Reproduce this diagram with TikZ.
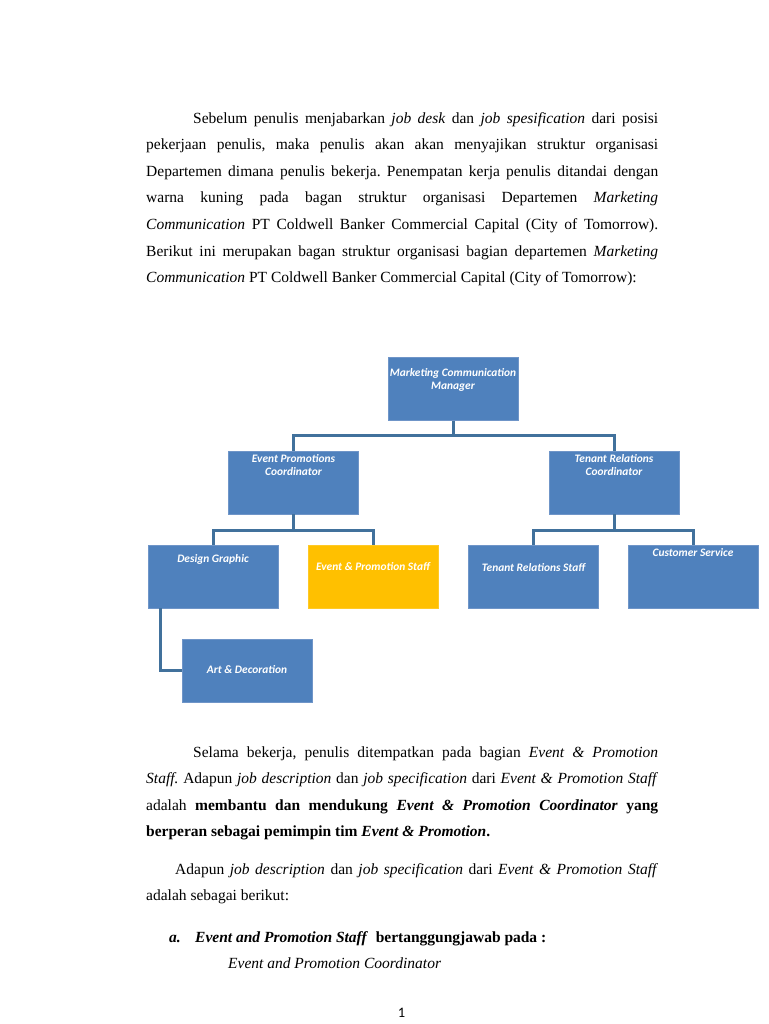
\documentclass[tikz,border=0pt]{standalone}
\usepackage{fontspec}
\setmainfont{Liberation Serif}
\newfontfamily\calfont{Carlito}
\definecolor{boxblue}{HTML}{4F81BD}
\definecolor{edgeblue}{HTML}{6F95C8}
\definecolor{lineblue}{HTML}{41719C}
\definecolor{boxyellow}{HTML}{FFC000}
\newcommand\justline[2]{\makebox[#1pt][s]{#2}}
\frenchspacing
\begin{document}
\begin{tikzpicture}[x=1pt,y=-1pt,
  orgbox/.style={fill=boxblue, draw=edgeblue, line width=0.6pt, minimum width=130pt, minimum height=63pt, inner sep=0pt},
  staffbox/.style={orgbox, fill=boxyellow, draw=boxyellow!85!white},
  boxtext/.style={anchor=base, inner sep=0pt, text=white, align=center, font=\calfont\bfseries\itshape\fontsize{11.4}{12.8}\selectfont},
  conn/.style={draw=lineblue, line width=3pt},
  body/.style={anchor=base west, inner sep=0pt, font=\fontsize{15.5}{26.5}\selectfont},
  pagenum/.style={anchor=base, inner sep=0pt, font=\calfont\fontsize{14.5}{16}\selectfont}]
\useasboundingbox[fill=white] (0,0) rectangle (768,1024);

% ---- first paragraph ----
\node[body] (p1a) at (193,123.5) {\justline{465}{Sebelum penulis menjabarkan \textit{job desk} dan \textit{job spesification} dari posisi}};
\node[body] (p1b) at (146,150) {\justline{512}{pekerjaan penulis, maka penulis akan akan menyajikan struktur organisasi}};
\node[body] (p1c) at (146,176.5) {\justline{512}{Departemen dimana penulis bekerja. Penempatan kerja penulis ditandai dengan}};
\node[body] (p1d) at (146,203) {\justline{512}{warna kuning pada bagan struktur organisasi Departemen \textit{Marketing}}};
\node[body] (p1e) at (146,229.5) {\justline{512}{\textit{Communication} PT Coldwell Banker Commercial Capital (City of Tomorrow).}};
\node[body] (p1f) at (146,256) {\justline{512}{Berikut ini merupakan bagan struktur organisasi bagian departemen \textit{Marketing}}};
\node[body] (p1g) at (146,282.5) {\textit{Communication} PT Coldwell Banker Commercial Capital (City of Tomorrow):};

% ---- org chart ----
\node[orgbox] (mcm) at (453,389) {};
\node[orgbox] (epc) at (293.5,482.5) {};
\node[orgbox] (trc) at (614,482.5) {};
\node[orgbox] (dg) at (213,576.5) {};
\node[staffbox] (eps) at (373,576.5) {};
\node[orgbox] (trs) at (533.5,576.5) {};
\node[orgbox] (cs) at (693,576.5) {};
\node[orgbox] (art) at (247,670.5) {};

\node[boxtext] (mcmt) at (453,389) {Marketing Communication\\Manager};
\node[boxtext] (epct) at (293.5,475) {Event Promotions\\Coordinator};
\node[boxtext] (trct) at (614,475) {Tenant Relations\\Coordinator};
\node[boxtext] (dgt) at (213,562) {Design Graphic};
\node[boxtext] (epst) at (373,570) {Event \& Promotion Staff};
\node[boxtext] (trst) at (533.5,571) {Tenant Relations Staff};
\node[boxtext] (cst) at (693,556) {Customer Service};
\node[boxtext] (artt) at (247,673) {Art \& Decoration};

\draw[conn] (mcm.south) -- ++(0,15) -| (epc.north);
\draw[conn] (mcm.south) ++(0,15) -| (trc.north);
\draw[conn] (epc.south) -- ++(0,16) -| (dg.north);
\draw[conn] (epc.south) ++(0,16) -| (eps.north);
\draw[conn] (trc.south) -- ++(0,16) -| (trs.north);
\draw[conn] (trc.south) ++(0,16) -| (cs.north);
\draw[conn] ([xshift=13pt]dg.south west) |- (art.west);

% ---- second paragraph ----
\node[body] (p2a) at (193,757) {\justline{465}{Selama bekerja, penulis ditempatkan pada bagian \textit{Event \& Promotion}}};
\node[body] (p2b) at (146,783.5) {\justline{512}{\textit{Staff.} Adapun \textit{job description} dan \textit{job specification} dari \textit{Event \& Promotion Staff}}};
\node[body] (p2c) at (146,810) {\justline{512}{adalah \textbf{membantu dan mendukung \textit{Event \& Promotion Coordinator} yang}}};
\node[body] (p2d) at (146,836.5) {\textbf{berperan sebagai pemimpin tim \textit{Event \& Promotion}.}};

% ---- third paragraph ----
\node[body] (p3a) at (175,874) {\justline{483}{Adapun \textit{job description} dan \textit{job specification} dari \textit{Event \& Promotion Staff}}};
\node[body] (p3b) at (146,900.5) {adalah sebagai berikut:};
\node[body] (la) at (169,942) {\textbf{\textit{a.}}};
\node[body] (lb) at (195,942) {\textbf{\textit{Event and Promotion Staff}\ \ bertanggungjawab pada :}};
\node[body] (lc) at (228,968.5) {\textit{Event and Promotion Coordinator}};

\node[pagenum] (pg) at (401.5,1017) {1};
\end{tikzpicture}
\end{document}
